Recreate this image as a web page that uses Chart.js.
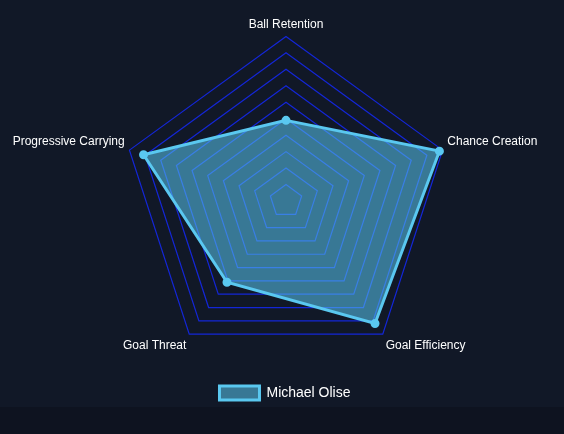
<!DOCTYPE html>
<html>
<head>
<meta charset="utf-8">
<script src="https://cdn.jsdelivr.net/npm/chart.js@4.4.1/dist/chart.umd.min.js"></script>
<style>
  html, body { margin: 0; padding: 0; background: #0e1320; overflow: hidden; }
  #wrap { width: 564px; height: 407px; background: #111827; position: relative; overflow: hidden; }
  #inner { position: absolute; left: -3px; top: 0; width: 576px; height: 407px; }
</style>
</head>
<body>
<div id="wrap"><div id="inner"><canvas id="c"></canvas></div></div>
<script>
const categories = ["Ball Retention", "Chance Creation", "Goal Efficiency", "Goal Threat", "Progressive Carrying"];
const seriesName = "Michael Olise";
const seriesValues = [49, 98, 92, 61, 91];
const scaleMin = 0;
const scaleMax = 100;
const scaleStep = 10;

new Chart(document.getElementById('c'), {
  type: 'radar',
  data: {
    labels: categories,
    datasets: [{
      label: seriesName,
      data: seriesValues,
      backgroundColor: 'rgba(90,200,240,0.55)',
      borderColor: '#5ac8f0',
      borderWidth: 3,
      pointBackgroundColor: '#5ac8f0',
      pointBorderColor: '#5ac8f0',
      pointRadius: 3
    }]
  },
  options: {
    responsive: true,
    maintainAspectRatio: false,
    animation: false,
    layout: { padding: { top: 8, bottom: -3 } },
    plugins: {
      legend: {
        position: 'bottom',
        labels: {
          color: '#ffffff',
          font: { family: 'Liberation Sans, Arial, sans-serif', size: 14 },
          boxWidth: 40,
          boxHeight: 14
        }
      },
      tooltip: { enabled: false }
    },
    scales: {
      r: {
        min: scaleMin,
        max: scaleMax,
        ticks: { stepSize: scaleStep, display: false },
        grid: { color: 'rgba(20,40,235,0.9)', lineWidth: 1.2 },
        angleLines: { display: false },
        pointLabels: {
          color: '#ffffff',
          font: { family: 'Liberation Sans, Arial, sans-serif', size: 12 }
        }
      }
    }
  }
});
</script>
</body>
</html>
